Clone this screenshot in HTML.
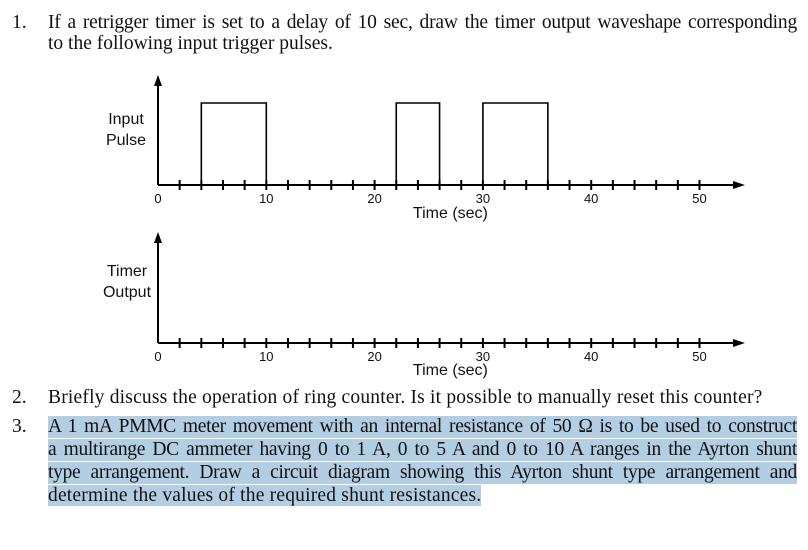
<!DOCTYPE html>
<html><head><meta charset="utf-8"><style>
body{margin:0;width:808px;height:550px;background:#fff;overflow:hidden;position:relative;font-family:"Liberation Serif",serif;}
.t{position:absolute;font-size:19.5px;color:#111;white-space:nowrap;line-height:22px;}
.j{width:749px;text-align:justify;text-align-last:justify;}
.hl{background:#b3cde2;}
svg{position:absolute;left:0;top:0}
</style></head><body>
<div class="t" style="left:12px;top:12px">1.</div>
<div class="t j" style="left:48px;top:12px;letter-spacing:-0.2px">If a retrigger timer is set to a delay of 10 sec, draw the timer output waveshape corresponding</div>
<div class="t" style="left:48px;top:33px">to the following input trigger pulses.</div>
<svg id="chart" width="808" height="550" font-family="Liberation Sans, sans-serif"></svg>
<div class="t" style="left:12px;top:387px">2.</div>
<div class="t" style="left:48px;top:387px;letter-spacing:0.2px">Briefly discuss the operation of ring counter. Is it possible to manually reset this counter?</div>
<div class="t" style="left:12px;top:416px">3.</div>
<div class="t j" style="left:48px;top:416px;letter-spacing:-0.3px"><span class="hl" style="display:block">A 1 mA PMMC meter movement with an internal resistance of 50 Ω is to be used to construct</span></div>
<div class="t j" style="left:48px;top:439px;letter-spacing:-0.3px"><span class="hl" style="display:block">a multirange DC ammeter having 0 to 1 A, 0 to 5 A and 0 to 10 A ranges in the Ayrton shunt</span></div>
<div class="t j" style="left:48px;top:462px;letter-spacing:-0.3px"><span class="hl" style="display:block">type arrangement. Draw a circuit diagram showing this Ayrton shunt type arrangement and</span></div>
<div class="t" style="left:48px;top:485px;letter-spacing:0.2px"><span class="hl">determine the values of the required shunt resistances.</span></div>
<script>
const tickLabels=[0,10,20,30,40,50];
const pulseStarts=[4,22,30];
const pulseEnds=[10,26,36];
const svg=document.getElementById('chart');
const NS='http://www.w3.org/2000/svg';
const x0=158,ppu=10.83;
function X(v){return x0+v*ppu;}
function mk(tag,attrs,name){const e=document.createElementNS(NS,tag);for(const k in attrs)e.setAttribute(k,attrs[k]);


svg.appendChild(e);return e;}
function axes(yAxis,yTop,yHigh,labelY,titleY,lab1,lab2,labX,pulses,pre){
 mk('line',{x1:x0,y1:yAxis,x2:735,y2:yAxis,stroke:'#000','stroke-width':2},pre+'x-axis');
 mk('polygon',{points:`745,${yAxis} 733,${yAxis-4} 733,${yAxis+4}`,fill:'#000'},pre+'x-axis-arrow');
 mk('line',{x1:x0,y1:yAxis,x2:x0,y2:yTop+8,stroke:'#000','stroke-width':2},pre+'y-axis');
 mk('polygon',{points:`${x0},${yTop} ${x0-4},${yTop+11} ${x0+4},${yTop+11}`,fill:'#000'},pre+'y-axis-arrow');
 for(let v=2;v<=50;v+=2){mk('line',{x1:X(v),y1:yAxis-5,x2:X(v),y2:yAxis+5,stroke:'#000','stroke-width':2},pre+'tick');}
 tickLabels.forEach(v=>{const t=mk('text',{x:X(v),y:labelY,'font-size':13,'text-anchor':'middle',fill:'#111'},pre+'tick-label');t.textContent=v;});
 const tt=mk('text',{x:X(27),y:titleY,'font-size':16,'text-anchor':'middle',fill:'#111'},pre+'x-axis-title');tt.textContent='Time (sec)';
 const a=mk('text',{x:labX,y:yHigh+21,'font-size':16,'text-anchor':'middle',fill:'#111'},pre+'y-axis-title');a.textContent=lab1;
 const b=mk('text',{x:labX,y:yHigh+42,'font-size':16,'text-anchor':'middle',fill:'#111'},pre+'y-axis-title-2');b.textContent=lab2;
 if(pulses){pulseStarts.forEach((s,i)=>{const e=pulseEnds[i];
  mk('polyline',{points:`${X(s)},${yAxis} ${X(s)},${yHigh} ${X(e)},${yHigh} ${X(e)},${yAxis}`,fill:'none',stroke:'#000','stroke-width':1.6},pre+'pulse');});}
}
axes(185,75,103,203,218,'Input','Pulse',126,true,'input-');
axes(343,232,255,361,375,'Timer','Output',127,false,'output-');
</script>
</body></html>
